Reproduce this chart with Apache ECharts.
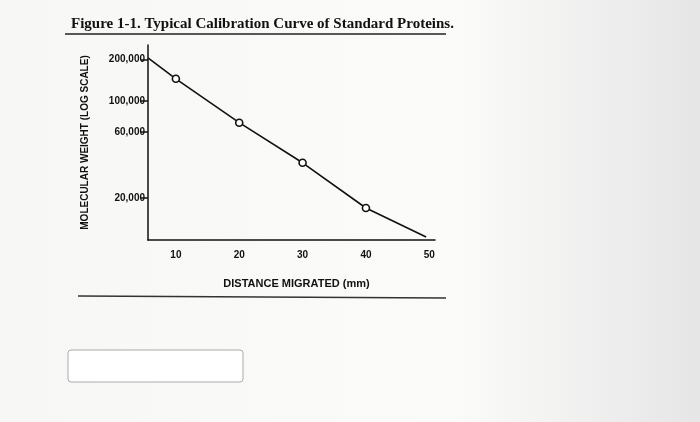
<!DOCTYPE html>
<html><head><meta charset="utf-8">
<script src="https://cdn.jsdelivr.net/npm/echarts@6/dist/echarts.min.js"></script>
<style>html,body{margin:0;padding:0;}#c{width:700px;height:422px;}</style>
</head><body><div id="c"></div>
<script>
const distance = [5.6, 10, 20, 30, 40, 49.5];
const weight = [205000, 145000, 70000, 36000, 17000, 10500];
const markerShown = [false, true, true, true, true, false];
const yTicks = [20000, 60000, 100000, 200000];
const xTicks = [10, 20, 30, 40, 50];
const F = '"Liberation Sans Narrow","Liberation Sans",Arial,sans-serif';
const chart = echarts.init(document.getElementById('c'));
chart.setOption({
  backgroundColor: {type:'linear',x:0,y:0,x2:1,y2:0,colorStops:[{offset:0,color:'#f7f7f6'},{offset:0.65,color:'#fbfbfa'},{offset:1,color:'#e6e6e6'}]},
  animation:false,
  title:{text:'Figure 1-1. Typical Calibration Curve of Standard Proteins.',left:66,top:12,
    textStyle:{fontFamily:'"Liberation Serif",serif',fontWeight:'bold',fontSize:15,color:'#111'}},
  grid:{left:148,right:265,top:45,bottom:182},
  xAxis:{type:'value',min:5.6,max:50.9,
    axisLine:{lineStyle:{color:'#111',width:1.5}},axisTick:{show:false},splitLine:{show:false},
    axisLabel:{customValues:xTicks,fontFamily:F,fontWeight:'bold',fontSize:10,color:'#111',margin:10},
    name:'DISTANCE MIGRATED (mm)',nameLocation:'middle',nameGap:38,
    nameTextStyle:{fontFamily:F,fontWeight:'bold',fontSize:11,color:'#111',padding:[0,0,0,10]}},
  yAxis:{type:'log',logBase:10,min:10000,max:254000,
    axisLine:{show:true,lineStyle:{color:'#111',width:1.5}},
    axisTick:{show:true,customValues:yTicks,length:7,lineStyle:{color:'#111',width:1.5}},
    splitLine:{show:false},
    axisLabel:{customValues:yTicks,fontFamily:F,fontWeight:'bold',fontSize:10,color:'#111',margin:3,
      formatter:v=>Math.round(v).toLocaleString('en-US')},
    name:'MOLECULAR WEIGHT (LOG SCALE)',nameLocation:'middle',nameGap:58,
    nameTextStyle:{fontFamily:F,fontWeight:'bold',fontSize:10,color:'#111'}},
  series:[{type:'line',
    data:distance.map((d,i)=>({value:[d,weight[i]],symbol:markerShown[i]?'circle':'none'})),
    symbolSize:7,lineStyle:{color:'#111',width:1.6},
    itemStyle:{color:'#fff',borderColor:'#111',borderWidth:1.6}}],
  graphic:[
    {type:'line',shape:{x1:65,y1:34,x2:446,y2:34},style:{stroke:'#222',lineWidth:1.5}},
    {type:'line',shape:{x1:78,y1:296,x2:446,y2:298},style:{stroke:'#333',lineWidth:1.3}},
    {type:'rect',shape:{x:68,y:350,width:175,height:32,r:3},style:{fill:'#fff',stroke:'#aaa',lineWidth:1}}
  ]
});
</script></body></html>
